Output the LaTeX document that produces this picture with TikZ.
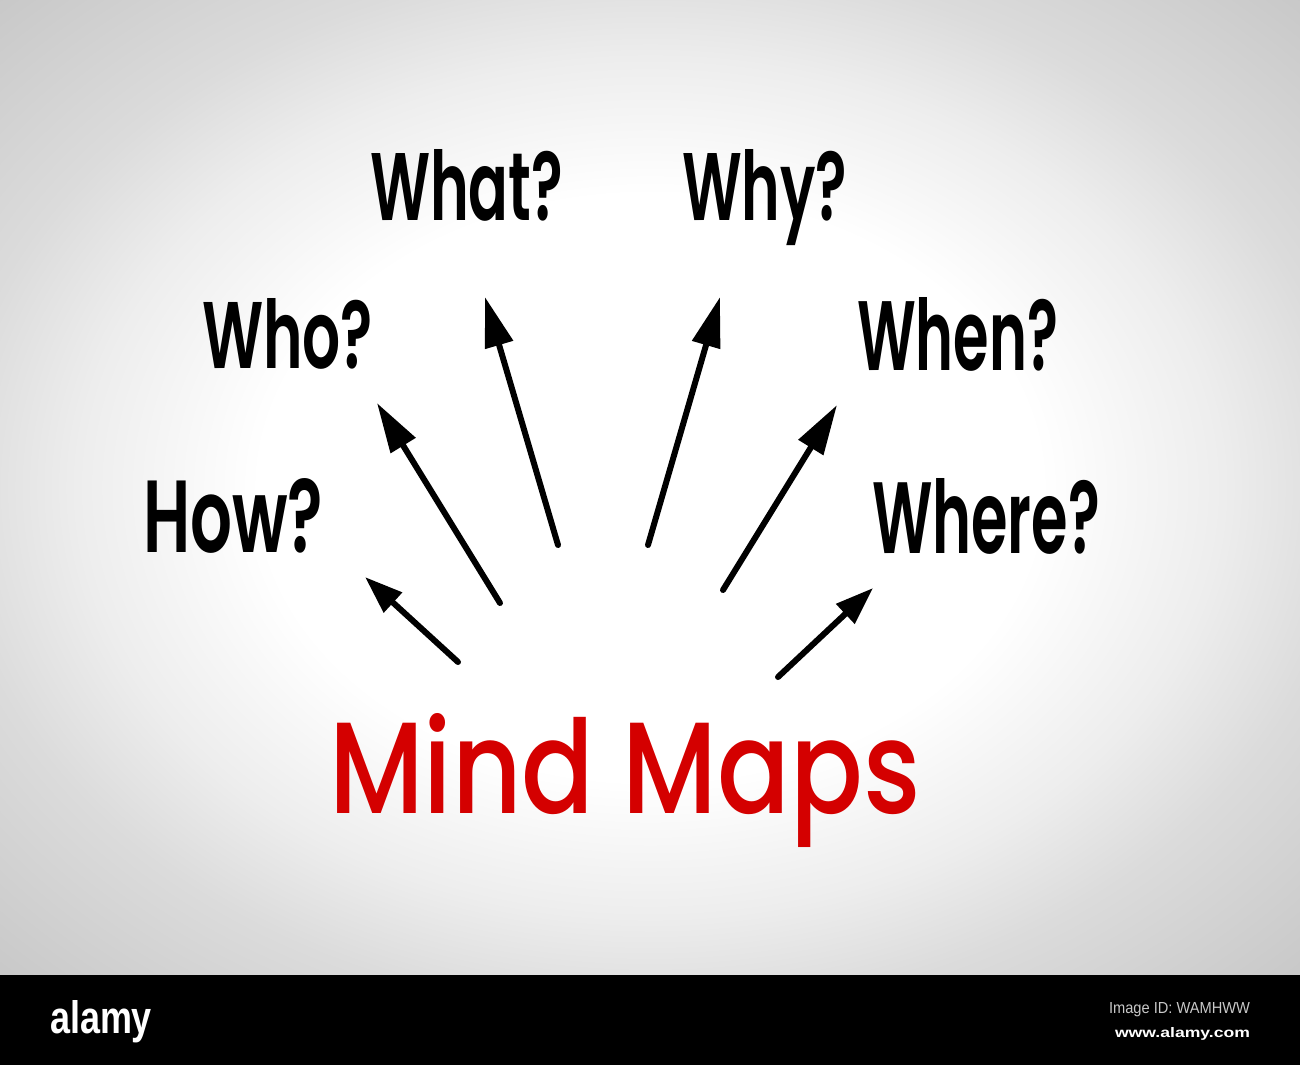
\documentclass[tikz,border=0pt]{standalone}
\usepackage{fontspec}
\setmainfont{Poppins}
\newfontfamily\handfont{Poppins}[UprightFont=* SemiBold]
\newfontfamily\titlefont{Poppins}[UprightFont=* Medium]
\newfontfamily\barfont{Liberation Sans}
\usetikzlibrary{arrows.meta}
\definecolor{mmred}{HTML}{D40000}
\definecolor{idgray}{HTML}{C8C8C8}
\pgfdeclareradialshading{vign}{\pgfpoint{0bp}{0bp}}{color(0bp)=(white); color(15bp)=(white); color(22bp)=(black!7); color(27bp)=(black!14); color(36bp)=(black!22); color(50bp)=(black!22)}
\newcommand\fitw[3]{\resizebox{#1pt}{#2pt}{#3}}
\tikzset{
  word/.style={anchor=base west, inner sep=0pt, outer sep=0pt, text=black, font=\handfont},
  bigarr/.style={line width=6pt, line cap=round, -{Triangle[length=50pt,width=28pt]}},
  smallarr/.style={line width=6pt, line cap=round, -{Triangle[length=38pt,width=26pt]}},
  bartext/.style={anchor=base west, inner sep=0pt, outer sep=0pt, font=\barfont},
}
\begin{document}
\begin{tikzpicture}[x=1pt,y=-1pt]
\useasboundingbox (0,0) rectangle (1300,1065);
\shade[shading=vign] (0,0) rectangle (1300,975);
\fill[black] (0,975) rectangle (1300,1065);

% question words
\node[word] (what)  at (370,220) {\fitw{193}{71}{What?}};
\node[word] (why)   at (682,220) {\fitw{165}{71}{Why?}};
\node[word] (who)   at (202,368) {\fitw{171}{70}{Who?}};
\node[word] (when)  at (857,370) {\fitw{201}{73}{When?}};
\node[word] (how)   at (143,552) {\fitw{180}{74}{How?}};
\node[word] (where) at (872,553) {\fitw{228}{75}{Where?}};

% central title
\node[word, text=mmred, font=\titlefont] (title) at (329,813) {\fitw{591}{100}{Mind Maps}};

% arrows
\coordinate (howT) at (458,662);   \coordinate (howH) at (365,577);
\coordinate (whoT) at (500,603);   \coordinate (whoH) at (377,403);
\coordinate (whatT) at (558,545);  \coordinate (whatH) at (485,297);
\coordinate (whyT) at (648,545);   \coordinate (whyH) at (720,297);
\coordinate (whenT) at (723,590);  \coordinate (whenH) at (837,405);
\coordinate (whereT) at (778,677); \coordinate (whereH) at (873,588);
\draw[smallarr] (howT) -- (howH);
\draw[bigarr] (whoT) -- (whoH);
\draw[bigarr] (whatT) -- (whatH);
\draw[bigarr] (whyT) -- (whyH);
\draw[bigarr] (whenT) -- (whenH);
\draw[smallarr] (whereT) -- (whereH);

% bottom band
\node[bartext, text=white, font=\barfont\bfseries] (alamy) at (50,1033) {\fitw{102}{33}{alamy}};
\node[bartext, text=idgray] (imgid) at (1109,1013) {\fitw{141}{11}{Image ID: WAMHWW}};
\node[bartext, text=white, font=\barfont\bfseries] (www) at (1115,1037) {\fitw{135}{10}{www.alamy.com}};
\end{tikzpicture}
\end{document}
